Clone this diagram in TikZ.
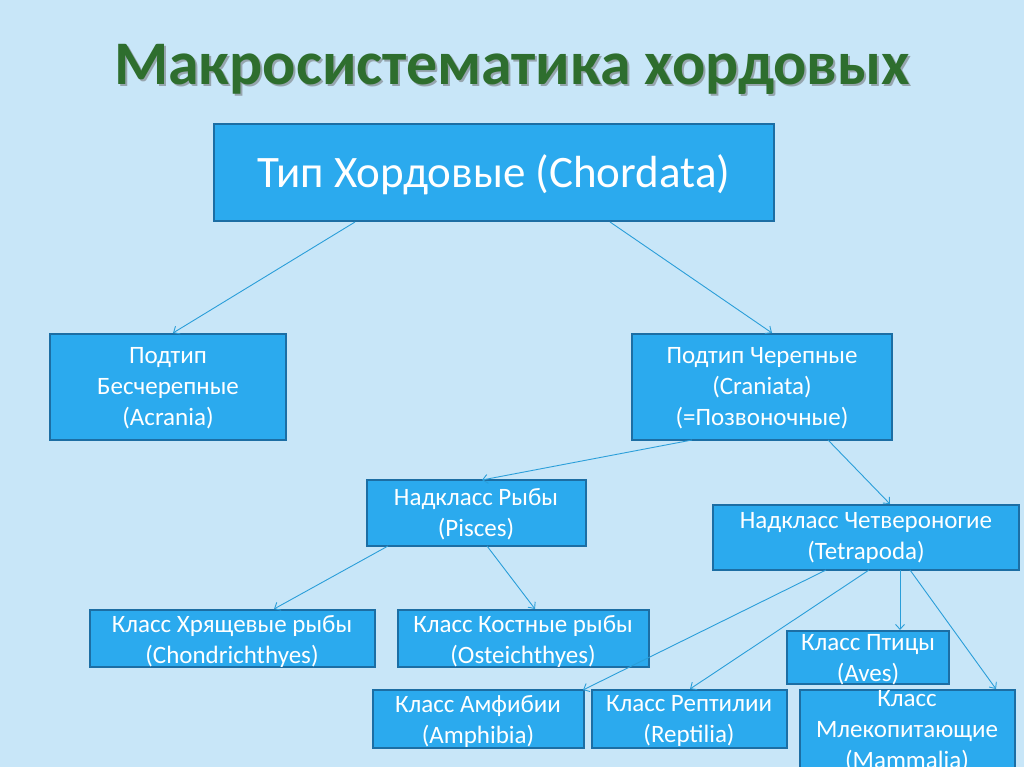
\documentclass[tikz,border=0pt]{standalone}
\usepackage{fontspec}
\setmainfont{Carlito}
\usetikzlibrary{arrows.meta}
\begin{document}
\begin{tikzpicture}[x=1pt,y=-1pt,
  box/.style={draw=boxline,fill=boxfill,line width=1.6pt},
  lbl/.style={text=white,font=\fontsize{25}{31}\selectfont,align=center,inner sep=0pt},
  arr/.style={draw=arrowc,line width=0.9pt,-{Straight Barb[length=5pt,width=9pt]}}]
\definecolor{bg}{HTML}{C8E6F8}
\definecolor{boxfill}{HTML}{2BAAEE}
\definecolor{boxline}{HTML}{1C6EA4}
\definecolor{arrowc}{HTML}{2A9ED9}
\definecolor{titlec}{HTML}{2E6E2E}
\useasboundingbox (0,0) rectangle (1024,767);
\clip (0,0) rectangle (1024,767);
\fill[bg] (0,0) rectangle (1024,767);
\node[font=\fontsize{62}{70}\selectfont\bfseries,text=black!60,opacity=0.5] at (514,71) {Макросистематика хордовых};
\node[font=\fontsize{62}{70}\selectfont\bfseries,text=titlec] (title) at (512,69) {Макросистематика хордовых};
% boxes
\draw[box] (214,124) rectangle (774,221);
\node[lbl,font=\fontsize{45}{50}\selectfont] (top) at (494,175) {Тип Хордовые (Chordata)};
\draw[box] (50,334) rectangle (286,440);
\node[lbl] (acr) at (168,388) {Подтип\\Бесчерепные\\(Acrania)};
\draw[box] (632,334) rectangle (892,440);
\node[lbl] (cran) at (762,388) {Подтип Черепные\\(Craniata)\\(=Позвоночные)};
\draw[box] (367,480) rectangle (586,546);
\node[lbl] (pis) at (476,514) {Надкласс Рыбы\\(Pisces)};
\draw[box] (713,505) rectangle (1019,570);
\node[lbl] (tet) at (866,538) {Надкласс Четвероногие\\(Tetrapoda)};
\draw[box] (90,610) rectangle (375,667);
\node[lbl] (chon) at (232,641) {Класс Хрящевые рыбы\\(Chondrichthyes)};
\draw[box] (398,610) rectangle (649,667);
\node[lbl] (ost) at (523,641) {Класс Костные рыбы\\(Osteichthyes)};
\draw[box] (787,631) rectangle (949,684);
\node[lbl] (ave) at (868,660) {Класс Птицы\\(Aves)};
\draw[box] (373,690) rectangle (584,748);
\node[lbl] (amp) at (478,721) {Класс Амфибии\\(Amphibia)};
\draw[box] (592,690) rectangle (787,748);
\node[lbl] (rep) at (689,721) {Класс Рептилии\\(Reptilia)};
\draw[box] (800,690) rectangle (1015,780);
\node[lbl] (mam) at (907,731) {Класс\\Млекопитающие\\(Mammalia)};
% anchor coordinates
\coordinate (t1) at (355,222); \coordinate (e1) at (173,333);
\coordinate (t2) at (610,222); \coordinate (e2) at (772,333);
\coordinate (c1) at (692,440); \coordinate (e3) at (482,480);
\coordinate (c2) at (828,440); \coordinate (e4) at (890,504);
\coordinate (p1) at (388,546); \coordinate (e5) at (274,609);
\coordinate (p2) at (487,546); \coordinate (e6) at (535,609);
\coordinate (q1) at (826,570); \coordinate (e7) at (583,690);
\coordinate (q2) at (869,570); \coordinate (e8) at (690,689);
\coordinate (q3) at (900,570); \coordinate (e9) at (900,630);
\coordinate (q4) at (910,570); \coordinate (e10) at (996,689);
\draw[arr] (t1) -- (e1);
\draw[arr] (t2) -- (e2);
\draw[arr] (c1) -- (e3);
\draw[arr] (c2) -- (e4);
\draw[arr] (p1) -- (e5);
\draw[arr] (p2) -- (e6);
\draw[arr] (q1) -- (e7);
\draw[arr] (q2) -- (e8);
\draw[arr] (q3) -- (e9);
\draw[arr] (q4) -- (e10);
\end{tikzpicture}
\end{document}
